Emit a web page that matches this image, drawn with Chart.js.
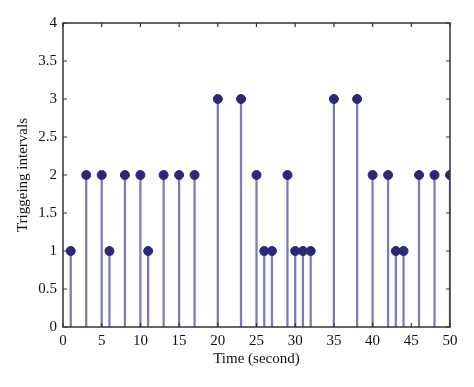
<!DOCTYPE html>
<html>
<head>
<meta charset="utf-8">
<script src="https://cdn.jsdelivr.net/npm/chart.js@4/dist/chart.umd.min.js"></script>
<style>
html,body{margin:0;padding:0;background:#fff;}
#wrap{width:474px;height:387px;}
</style>
</head>
<body>
<div id="wrap"><canvas id="c" width="474" height="387"></canvas></div>
<script>
const times = [1,3,5,6,8,10,11,13,15,17,20,23,25,26,27,29,30,31,32,35,38,40,42,43,44,46,48,50];
const intervals = [1,2,2,1,2,2,1,2,2,2,3,3,2,1,1,2,1,1,1,3,3,2,2,1,1,2,2,2];
const xTitle = 'Time (second)';
const yTitle = 'Triggeing intervals';

const pts = times.map((t,i)=>({x:t,y:intervals[i]}));
const FONT = "'Liberation Serif', 'DejaVu Serif', serif";

const boxPlugin = {
  id:'box',
  afterDraw(chart){
    const {ctx, chartArea:a, scales} = chart;
    ctx.save();
    ctx.strokeStyle = '#333';
    ctx.lineWidth = 1.5;
    ctx.strokeRect(a.left, a.top, a.right-a.left, a.bottom-a.top);
    ctx.lineWidth = 1.2;
    const tl = 4;
    scales.x.ticks.forEach(t=>{
      const px = scales.x.getPixelForValue(t.value);
      ctx.beginPath();
      ctx.moveTo(px, a.bottom); ctx.lineTo(px, a.bottom-tl);
      ctx.moveTo(px, a.top); ctx.lineTo(px, a.top+tl);
      ctx.stroke();
    });
    scales.y.ticks.forEach(t=>{
      const py = scales.y.getPixelForValue(t.value);
      ctx.beginPath();
      ctx.moveTo(a.left, py); ctx.lineTo(a.left+tl, py);
      ctx.moveTo(a.right, py); ctx.lineTo(a.right-tl, py);
      ctx.stroke();
    });
    ctx.restore();
  }
};

new Chart(document.getElementById('c'), {
  type:'bar',
  data:{
    datasets:[
      {type:'scatter', data:pts, backgroundColor:'#2b2878', borderColor:'#2b2878', pointRadius:4.5, pointHoverRadius:4.5, order:0},
      {type:'bar', data:pts, backgroundColor:'#7d7ab9', barThickness:1.6, order:1}
    ]
  },
  options:{
    responsive:false,
    animation:false,
    events:[],
    layout:{padding:{left:10,right:24,top:23,bottom:15}},
    plugins:{legend:{display:false}, tooltip:{enabled:false}},
    scales:{
      x:{
        type:'linear', min:0, max:50, offset:false,
        grid:{display:false, drawTicks:false},
        border:{display:false},
        ticks:{stepSize:5, padding:5, color:'#111', font:{family:FONT, size:15}},
        title:{display:true, text:xTitle, color:'#111', font:{family:FONT, size:15}, padding:{top:3}},
        afterFit(s){ s.height = 45; }
      },
      y:{
        min:0, max:4,
        grid:{display:false, drawTicks:false},
        border:{display:false},
        ticks:{stepSize:0.5, padding:6, color:'#111', font:{family:FONT, size:15}, callback:(v)=>String(v)},
        title:{display:true, text:yTitle, color:'#111', font:{family:FONT, size:15}, padding:{bottom:4}},
        afterFit(s){ s.width = 53; }
      }
    }
  },
  plugins:[boxPlugin]
});
</script>
</body>
</html>
